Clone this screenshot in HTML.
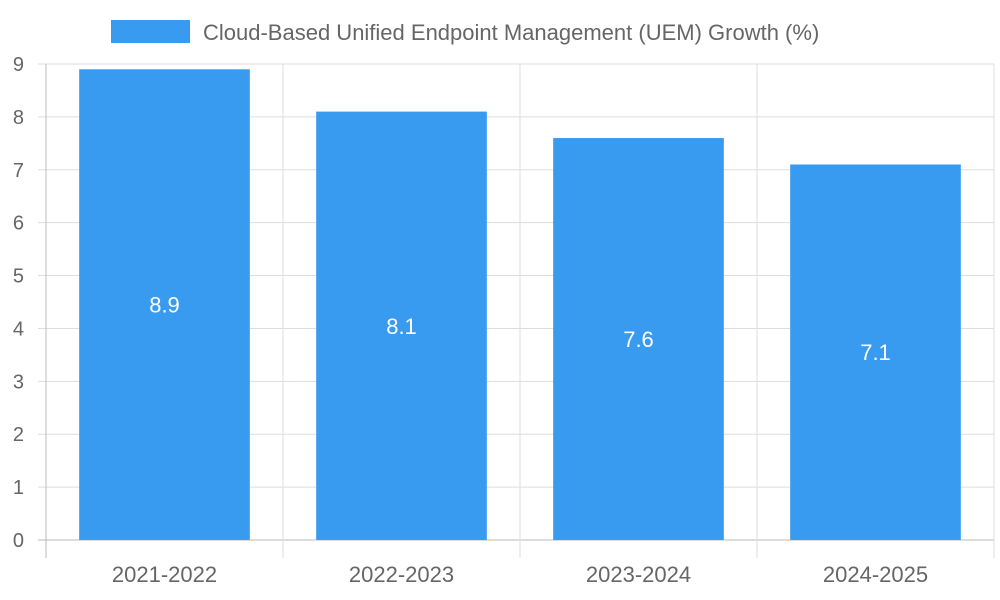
<!DOCTYPE html>
<html><head><meta charset="utf-8"><style>
body{margin:0;background:#fff;}
svg{display:block;font-family:"Liberation Sans",sans-serif;}
</style></head><body>
<svg id="chart" width="1000" height="600">
<rect x="111" y="20" width="79" height="23" fill="#389bef"/>
<text x="203" y="40" font-size="22" fill="#666">Cloud-Based Unified Endpoint Management (UEM) Growth (%)</text>
<g id="grid"></g><g id="bars"></g><g id="labels"></g>
</svg>
<script>
const categories=["2021-2022","2022-2023","2023-2024","2024-2025"];
const values=[8.9,8.1,7.6,7.1];
const yTicks=[0,1,2,3,4,5,6,7,8,9];
const NS="http://www.w3.org/2000/svg";
const L=46,R=994,T=64,B=540,yMax=9;
const cw=(R-L)/categories.length;
const y=v=>B-(v/yMax)*(B-T);
const x=i=>L+i*cw;
function mk(t,a,p){const e=document.createElementNS(NS,t);for(const k in a)e.setAttribute(k,a[k]);p.appendChild(e);return e;}
const g=document.getElementById('grid'),bg=document.getElementById('bars'),lg=document.getElementById('labels');
yTicks.forEach(t=>{
 const ln=mk('line',{x1:38,x2:R,y1:y(t),y2:y(t),stroke:t===0?'#bbb':'#ddd','stroke-width':1},g);
 
 
 const tx=mk('text',{x:24,y:y(t)+7,'text-anchor':'end','font-size':20,fill:'#666'},lg);
 tx.textContent=t;
 
 
});
for(let i=0;i<=categories.length;i++){
 const ln=mk('line',{x1:x(i),x2:x(i),y1:T,y2:558,stroke:i===0?'#bbb':'#ddd','stroke-width':1},g);
 
 
}
categories.forEach((c,i)=>{
 const bw=cw*0.72,cx=x(i)+cw/2;
 const r=mk('rect',{x:cx-bw/2,y:y(values[i]),width:bw,height:B-y(values[i]),fill:'#389bef'},bg);
 
 
 const v=mk('text',{x:cx,y:(y(values[i])+B)/2+8,'text-anchor':'middle','font-size':22,fill:'#fff'},lg);
 v.textContent=values[i];
 
 
 const t=mk('text',{x:cx,y:582,'text-anchor':'middle','font-size':22,fill:'#666'},lg);
 t.textContent=c;
 
 
});
</script>
</body></html>
